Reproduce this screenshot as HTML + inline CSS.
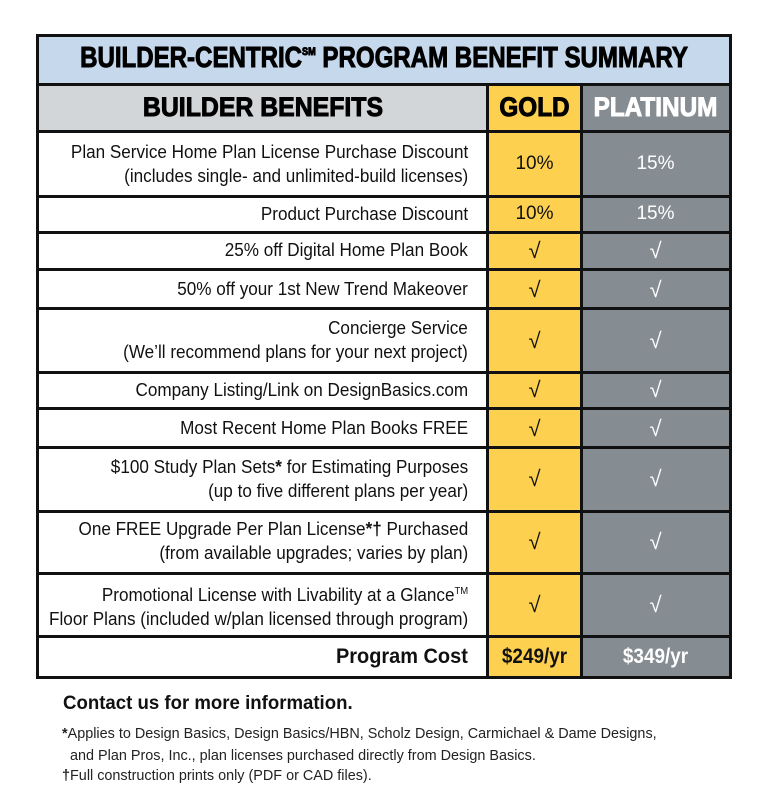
<!DOCTYPE html>
<html><head><meta charset="utf-8"><style>
body{margin:0;width:768px;height:807px;background:#fff;position:relative;font-family:"Liberation Sans",sans-serif;overflow:hidden}
.a{position:absolute;box-sizing:border-box}
.t{position:absolute;white-space:nowrap}
.r{right:0;text-align:right;transform:scaleX(0.95);transform-origin:right center}
.ln{position:absolute;background:#111}
.h{font-family:'Liberation Sans',sans-serif;font-weight:900;-webkit-text-stroke:1px #000;display:flex;justify-content:center}
.ck{font-size:22px}
</style></head><body>
<div class="a" style="left:38px;top:35px;width:692px;height:50px;background:#c6d9ec"></div>
<div class="a" style="left:38px;top:85px;width:450px;height:46px;background:#d3d6d9"></div>
<div class="a" style="left:488px;top:85px;width:93px;height:593px;background:#fdd04f"></div>
<div class="a" style="left:581px;top:85px;width:149px;height:593px;background:#858c92"></div>
<div class="ln" style="left:36px;top:34px;width:696px;height:3px"></div>
<div class="ln" style="left:36px;top:676px;width:696px;height:3px"></div>
<div class="ln" style="left:36px;top:34px;width:3px;height:645px"></div>
<div class="ln" style="left:729px;top:34px;width:3px;height:645px"></div>
<div class="ln" style="left:486px;top:84px;width:3px;height:594px"></div>
<div class="ln" style="left:580px;top:84px;width:3px;height:594px"></div>
<div class="ln" style="left:36px;top:83px;width:696px;height:3px"></div>
<div class="ln" style="left:36px;top:130px;width:696px;height:3px"></div>
<div class="ln" style="left:36px;top:195px;width:696px;height:3px"></div>
<div class="ln" style="left:36px;top:231px;width:696px;height:3px"></div>
<div class="ln" style="left:36px;top:268px;width:696px;height:3px"></div>
<div class="ln" style="left:36px;top:307px;width:696px;height:3px"></div>
<div class="ln" style="left:36px;top:371px;width:696px;height:3px"></div>
<div class="ln" style="left:36px;top:407px;width:696px;height:3px"></div>
<div class="ln" style="left:36px;top:446px;width:696px;height:3px"></div>
<div class="ln" style="left:36px;top:510px;width:696px;height:3px"></div>
<div class="ln" style="left:36px;top:572px;width:696px;height:3px"></div>
<div class="ln" style="left:36px;top:635px;width:696px;height:3px"></div>
<div class="t h" style="left:38px;width:692px;top:42px;font-size:29px;transform:scaleX(0.83)"><span>BUILDER-CENTRIC<span style="font-size:11px;vertical-align:12px">SM</span> PROGRAM BENEFIT SUMMARY</span></div>
<div class="t h" style="left:38px;width:450px;top:92px;font-size:27px;transform:scaleX(0.92)">BUILDER BENEFITS</div>
<div class="t h" style="left:488px;width:93px;top:92px;font-size:27px;transform:scaleX(0.9)">GOLD</div>
<div class="t h" style="left:581px;width:149px;top:92px;font-size:27px;color:#fff;transform:scaleX(0.9);-webkit-text-stroke:1px #fff">PLATINUM</div>
<div style="position:absolute;left:40px;width:428px;top:0;font-size:18px;color:#111;text-align:right;line-height:24px">
<div class="t r" style="top:140px">Plan Service Home Plan License Purchase Discount<br>(includes single- and unlimited-build licenses)</div>
<div class="t r" style="top:202px">Product Purchase Discount</div>
<div class="t r" style="top:238px">25% off Digital Home Plan Book</div>
<div class="t r" style="top:277px">50% off your 1st New Trend Makeover</div>
<div class="t r" style="top:316px">Concierge Service<br>(We’ll recommend plans for your next project)</div>
<div class="t r" style="top:378px">Company Listing/Link on DesignBasics.com</div>
<div class="t r" style="top:416px">Most Recent Home Plan Books FREE</div>
<div class="t r" style="top:455px">$100 Study Plan Sets<b>*</b> for Estimating Purposes<br>(up to five different plans per year)</div>
<div class="t r" style="top:517px">One FREE Upgrade Per Plan License<b>*†</b> Purchased<br>(from available upgrades; varies by plan)</div>
<div class="t r" style="top:580px">Promotional License with Livability at a Glance<sup style="font-size:10px">TM</sup><br>Floor Plans (included w/plan licensed through program)</div>
<div class="t r" style="top:645px;font-weight:bold;font-size:21px">Program Cost</div>
</div>
<div style="position:absolute;left:488px;width:93px;top:0;font-size:19px;text-align:center;color:#111">
<div class="t" style="left:0;width:93px;top:153px">10%</div>
<div class="t" style="left:0;width:93px;top:203px">10%</div>
<div class="t ck" style="left:0;width:93px;top:238px">√</div>
<div class="t ck" style="left:0;width:93px;top:277px">√</div>
<div class="t ck" style="left:0;width:93px;top:328px">√</div>
<div class="t ck" style="left:0;width:93px;top:377px">√</div>
<div class="t ck" style="left:0;width:93px;top:416px">√</div>
<div class="t ck" style="left:0;width:93px;top:466px">√</div>
<div class="t ck" style="left:0;width:93px;top:529px">√</div>
<div class="t ck" style="left:0;width:93px;top:592px">√</div>
<div class="t" style="left:0;width:93px;top:645px;font-weight:bold;font-size:21px;transform:scaleX(0.9)">$249/yr</div>
</div>
<div style="position:absolute;left:581px;width:149px;top:0;font-size:19px;text-align:center;color:#fff">
<div class="t" style="left:0;width:149px;top:153px">15%</div>
<div class="t" style="left:0;width:149px;top:203px">15%</div>
<div class="t ck" style="left:0;width:149px;top:238px">√</div>
<div class="t ck" style="left:0;width:149px;top:277px">√</div>
<div class="t ck" style="left:0;width:149px;top:328px">√</div>
<div class="t ck" style="left:0;width:149px;top:377px">√</div>
<div class="t ck" style="left:0;width:149px;top:416px">√</div>
<div class="t ck" style="left:0;width:149px;top:466px">√</div>
<div class="t ck" style="left:0;width:149px;top:529px">√</div>
<div class="t ck" style="left:0;width:149px;top:592px">√</div>
<div class="t" style="left:0;width:149px;top:645px;font-weight:bold;font-size:21px;transform:scaleX(0.9)">$349/yr</div>
</div>
<div class="t" style="left:63px;top:693px;font-size:19px;font-weight:bold;color:#111;transform:scaleX(0.98);transform-origin:left">Contact us for more information.</div>
<div class="t" style="left:62px;top:723px;font-size:15px;color:#222;line-height:22px;transform:scaleX(0.96);transform-origin:left"><b>*</b>Applies to Design Basics, Design Basics/HBN, Scholz Design, Carmichael &amp; Dame Designs,<br>&nbsp; and Plan Pros, Inc., plan licenses purchased directly from Design Basics.</div>
<div class="t" style="left:62px;top:767px;font-size:15px;color:#222;transform:scaleX(0.96);transform-origin:left"><b>†</b>Full construction prints only (PDF or CAD files).</div>
</body></html>
